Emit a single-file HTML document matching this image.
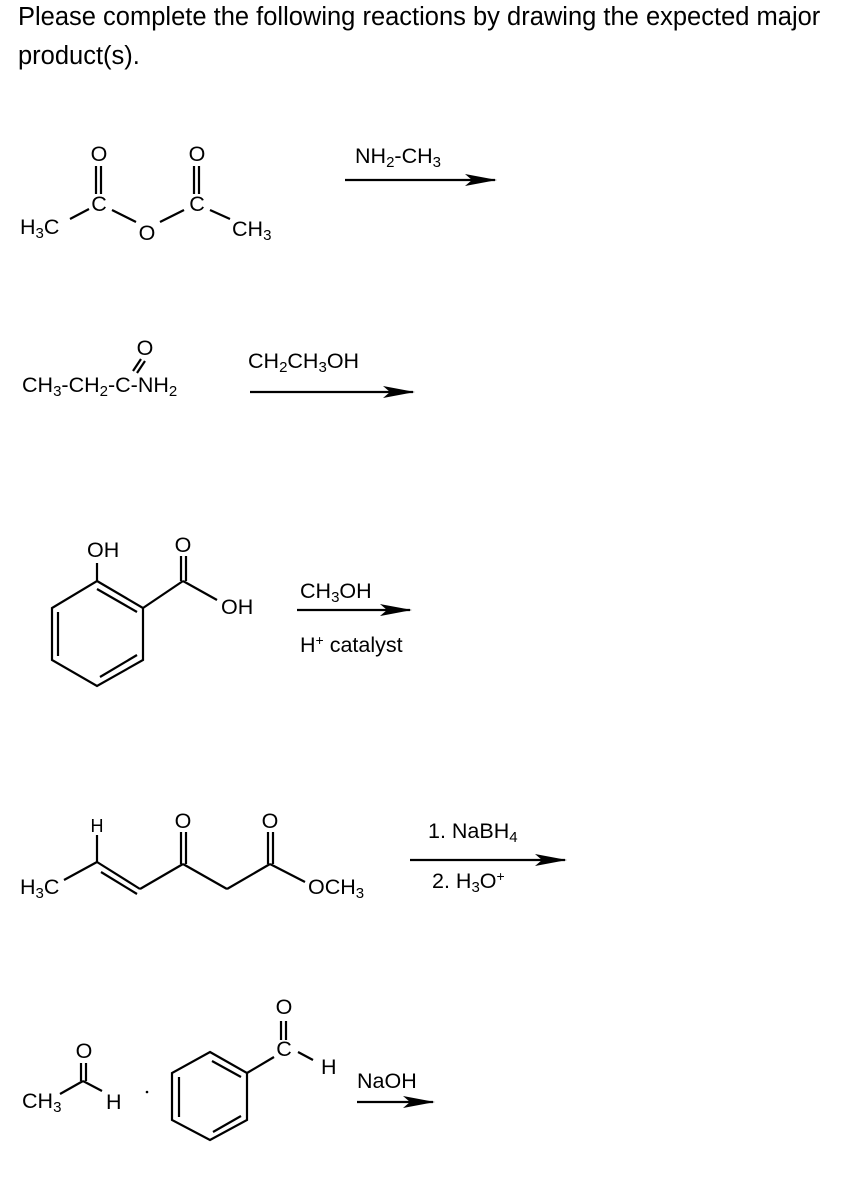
<!DOCTYPE html>
<html><head><meta charset="utf-8"><style>
html,body{margin:0;padding:0;background:#fff}
svg{display:block}
text{font-family:"Liberation Sans",Arial,sans-serif;fill:#000}
</style></head><body>
<svg width="846" height="1188" viewBox="0 0 846 1188" xmlns="http://www.w3.org/2000/svg">
<defs><marker id="ah" markerWidth="32" markerHeight="12" refX="30" refY="6" orient="auto" markerUnits="userSpaceOnUse"><path d="M0,0 L32,6 L0,12 L7,6 Z" fill="#000"/></marker></defs>
<text x="18" y="25" font-size="25.5">Please complete the following reactions by drawing the expected major</text>
<text x="18" y="64" font-size="25.5">product(s).</text>
<g stroke="#000" stroke-width="2.2" fill="none">
<!-- R1 -->
<line x1="96" y1="166" x2="96" y2="194"/><line x1="101" y1="166" x2="101" y2="194"/>
<line x1="194" y1="166" x2="194" y2="194"/><line x1="199" y1="166" x2="199" y2="194"/>
<line x1="70" y1="219" x2="89" y2="209"/><line x1="112" y1="210" x2="136" y2="222"/>
<line x1="160" y1="222" x2="184" y2="210"/><line x1="210" y1="210" x2="230" y2="219"/>
<line x1="345" y1="180" x2="495" y2="180" marker-end="url(#ah)"/>
<!-- R2 -->
<line x1="133" y1="371" x2="141" y2="359"/><line x1="137" y1="373" x2="145" y2="361"/>
<line x1="250" y1="392" x2="413" y2="392" marker-end="url(#ah)"/>
<!-- R3 -->
<path d="M97,581 L143,608 L143,660 L97,686 L52,660 L52,608 Z"/>
<line x1="97" y1="589" x2="137" y2="612"/><line x1="58" y1="612" x2="58" y2="656"/><line x1="100" y1="677" x2="137" y2="655"/>
<line x1="97" y1="563" x2="97" y2="581"/>
<line x1="143" y1="608" x2="183" y2="581"/>
<line x1="181" y1="556" x2="181" y2="581"/><line x1="186" y1="556" x2="186" y2="581"/>
<line x1="183" y1="581" x2="217" y2="600"/>
<line x1="297" y1="610" x2="410" y2="610" marker-end="url(#ah)"/>
<!-- R4 -->
<line x1="97" y1="835" x2="97" y2="862"/>
<line x1="64" y1="880" x2="97" y2="862"/>
<line x1="97" y1="862" x2="140" y2="889"/><line x1="101" y1="872" x2="137" y2="894" />
<line x1="140" y1="889" x2="183" y2="864"/>
<line x1="181" y1="832" x2="181" y2="864"/><line x1="186" y1="832" x2="186" y2="864"/>
<line x1="183" y1="864" x2="227" y2="889"/><line x1="227" y1="889" x2="270" y2="864"/>
<line x1="268" y1="832" x2="268" y2="864"/><line x1="273" y1="832" x2="273" y2="864"/>
<line x1="270" y1="864" x2="305" y2="882"/>
<line x1="410" y1="860" x2="565" y2="860" marker-end="url(#ah)"/>
<!-- R5 -->
<line x1="81" y1="1063" x2="81" y2="1081"/><line x1="86" y1="1063" x2="86" y2="1081"/>
<line x1="60" y1="1094" x2="83" y2="1081"/><line x1="83" y1="1081" x2="102" y2="1091"/>
<path d="M210,1052 L247,1073 L247,1120 L210,1140 L172,1120 L172,1073 Z"/>
<line x1="212" y1="1061" x2="241" y2="1077"/><line x1="179" y1="1077" x2="179" y2="1117"/><line x1="213" y1="1132" x2="241" y2="1116"/>
<line x1="247" y1="1073" x2="274" y2="1057"/>
<line x1="281" y1="1021" x2="281" y2="1040"/><line x1="286" y1="1021" x2="286" y2="1040"/>
<line x1="298" y1="1052" x2="313" y2="1060"/>
<line x1="357" y1="1102" x2="433" y2="1102" marker-end="url(#ah)"/>
</g>
<g font-size="21.5">
<!-- R1 -->
<text x="99" y="161" text-anchor="middle">O</text><text x="197" y="161" text-anchor="middle">O</text>
<text x="99" y="211" text-anchor="middle">C</text><text x="197" y="211" text-anchor="middle">C</text>
<text x="20" y="234">H<tspan font-size="15" dy="4">3</tspan><tspan dy="-4">C</tspan></text>
<text x="147" y="240" text-anchor="middle">O</text>
<text x="232" y="236">CH<tspan font-size="15" dy="4">3</tspan></text>
<text x="355" y="163">NH<tspan font-size="15" dy="4">2</tspan><tspan dy="-4">-CH</tspan><tspan font-size="15" dy="4">3</tspan></text>
<!-- R2 -->
<text x="145" y="355" text-anchor="middle">O</text>
<text x="22" y="392">CH<tspan font-size="15" dy="4">3</tspan><tspan dy="-4">-CH</tspan><tspan font-size="15" dy="4">2</tspan><tspan dy="-4">-C-NH</tspan><tspan font-size="15" dy="4">2</tspan></text>
<text x="248" y="368">CH<tspan font-size="15" dy="4">2</tspan><tspan dy="-4">CH</tspan><tspan font-size="15" dy="4">3</tspan><tspan dy="-4">OH</tspan></text>
<!-- R3 -->
<text x="87" y="557">OH</text>
<text x="183" y="552" text-anchor="middle">O</text>
<text x="221" y="614">OH</text>
<text x="300" y="598">CH<tspan font-size="15" dy="4">3</tspan><tspan dy="-4">OH</tspan></text>
<text x="300" y="652">H<tspan font-size="14" dy="-7">+</tspan><tspan dy="7"> catalyst</tspan></text>
<!-- R4 -->
<text x="97" y="832" font-size="18" text-anchor="middle">H</text>
<text x="20" y="894">H<tspan font-size="15" dy="4">3</tspan><tspan dy="-4">C</tspan></text>
<text x="183" y="828" text-anchor="middle">O</text><text x="270" y="828" text-anchor="middle">O</text>
<text x="308" y="894">OCH<tspan font-size="15" dy="4">3</tspan></text>
<text x="428" y="838">1. NaBH<tspan font-size="15" dy="4">4</tspan></text>
<text x="432" y="888">2.  H<tspan font-size="15" dy="4">3</tspan><tspan dy="-4">O</tspan><tspan font-size="14" dy="-7">+</tspan></text>
<!-- R5 -->
<text x="84" y="1058" text-anchor="middle">O</text>
<text x="22" y="1108">CH<tspan font-size="15" dy="4">3</tspan></text>
<text x="106" y="1109">H</text>
<text x="284" y="1014" text-anchor="middle">O</text>
<text x="284" y="1056" text-anchor="middle">C</text>
<text x="321" y="1074">H</text>
<text x="357" y="1088">NaOH</text>
</g>
<circle cx="147" cy="1092" r="1.3" fill="#000"/>
</svg>
</body></html>
